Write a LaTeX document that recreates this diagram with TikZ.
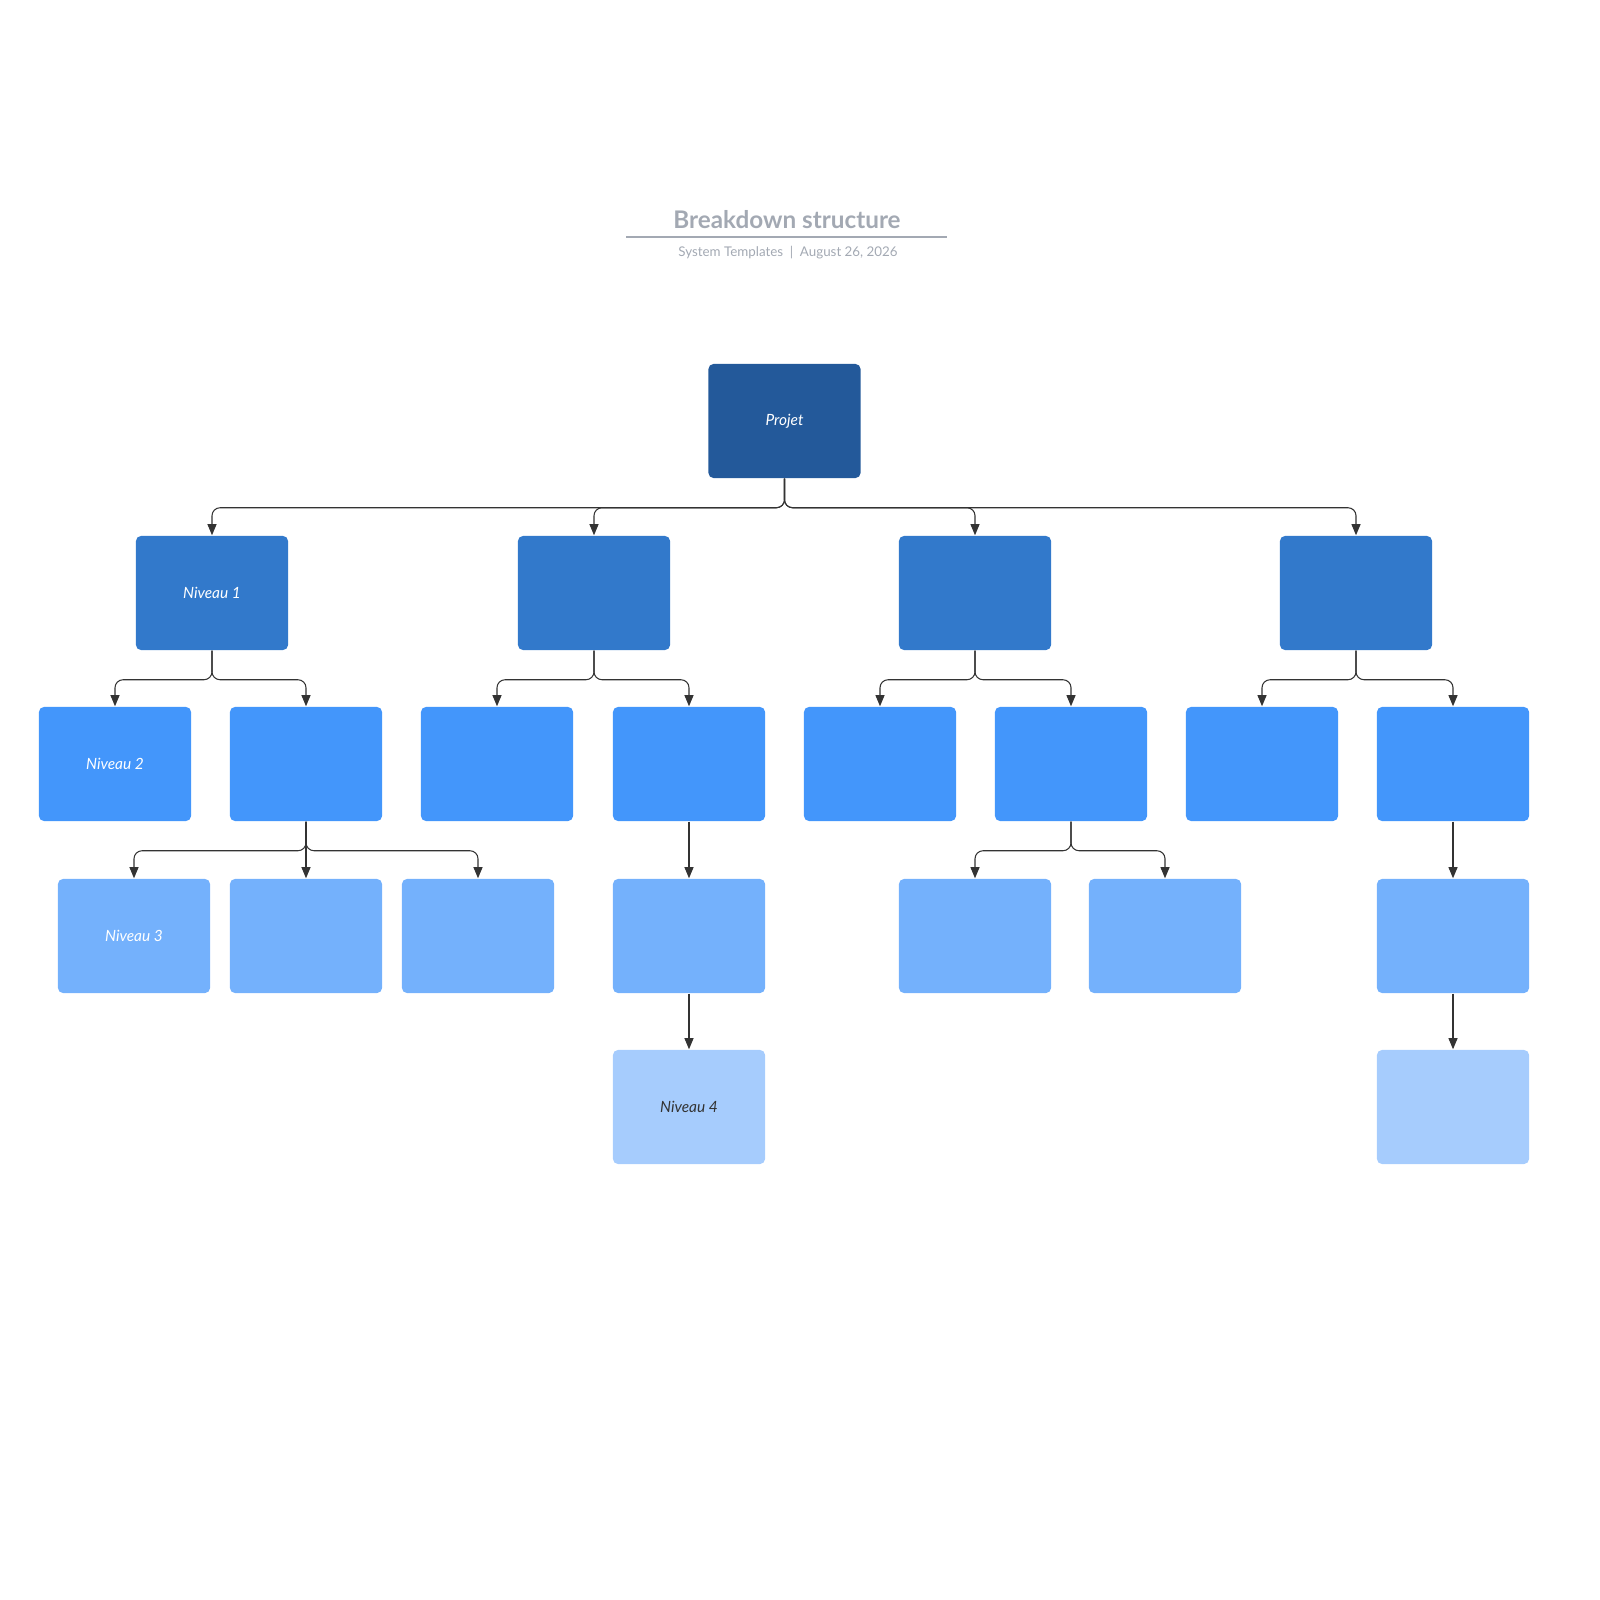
\documentclass[tikz,border=0pt]{standalone}
\usepackage{fontspec}
\setmainfont{Lato}
\usetikzlibrary{arrows.meta}
\definecolor{c0}{HTML}{23599A}
\definecolor{c1}{HTML}{3279CB}
\definecolor{c2}{HTML}{4396FB}
\definecolor{c3}{HTML}{74B1FC}
\definecolor{c4}{HTML}{A6CCFD}
\definecolor{gr}{HTML}{A3A9B3}
\definecolor{ln}{HTML}{333333}
\begin{document}
\begin{tikzpicture}[x=0.01cm,y=-0.01cm,
 box/.style={draw=none,rounded corners=0.05cm,minimum width=1.52cm,minimum height=1.14cm,inner sep=0pt,font=\fontsize{4.4}{5}\selectfont\itshape,text=white},
 edge/.style={draw=ln,line width=0.3pt,rounded corners=0.08cm,-{Triangle[length=3.2pt,width=2.6pt]}}]
\useasboundingbox (0,0) rectangle (1600,1600);
\node[font=\fontsize{6.9}{8}\selectfont\bfseries,text=gr] (title) at (787,220) {Breakdown structure};
\draw[gr,line width=0.4pt] (626,237) -- (947,237);
\node[font=\fontsize{3.8}{4.5}\selectfont,text=gr] (sub) at (788,253) {System Templates\enspace|\enspace August 26, 2026};
\node[box,fill=c0] (p) at (784.5,421) {Projet};
\foreach \n/\x/\t in {a/212/Niveau 1,b/594/,c/975/,d/1356/}
  \node[box,fill=c1] (\n) at (\x,593) {\t};
\foreach \n/\x/\t in {a1/115/Niveau 2,a2/306/,b1/497/,b2/689/,c1/880/,c2/1071/,d1/1262/,d2/1453/}
  \node[box,fill=c2] (\n) at (\x,764) {\t};
\foreach \n/\x/\t in {a21/134/Niveau 3,a22/306/,a23/478/,b21/689/,c21/975/,c22/1165/,d21/1453/}
  \node[box,fill=c3] (\n) at (\x,936) {\t};
\node[box,fill=c4,text=ln] (b211) at (689,1107) {Niveau 4};
\node[box,fill=c4] (d211) at (1453,1107) {};
\foreach \p/\c in {p/a,p/b,p/c,p/d,a/a1,a/a2,b/b1,b/b2,c/c1,c/c2,d/d1,d/d2,a2/a21,a2/a22,a2/a23,b2/b21,c2/c21,c2/c22,d2/d21,b21/b211,d21/d211}
  \draw[edge] (\p.south) -- ++(0,29) -| (\c.north);
\end{tikzpicture}
\end{document}
